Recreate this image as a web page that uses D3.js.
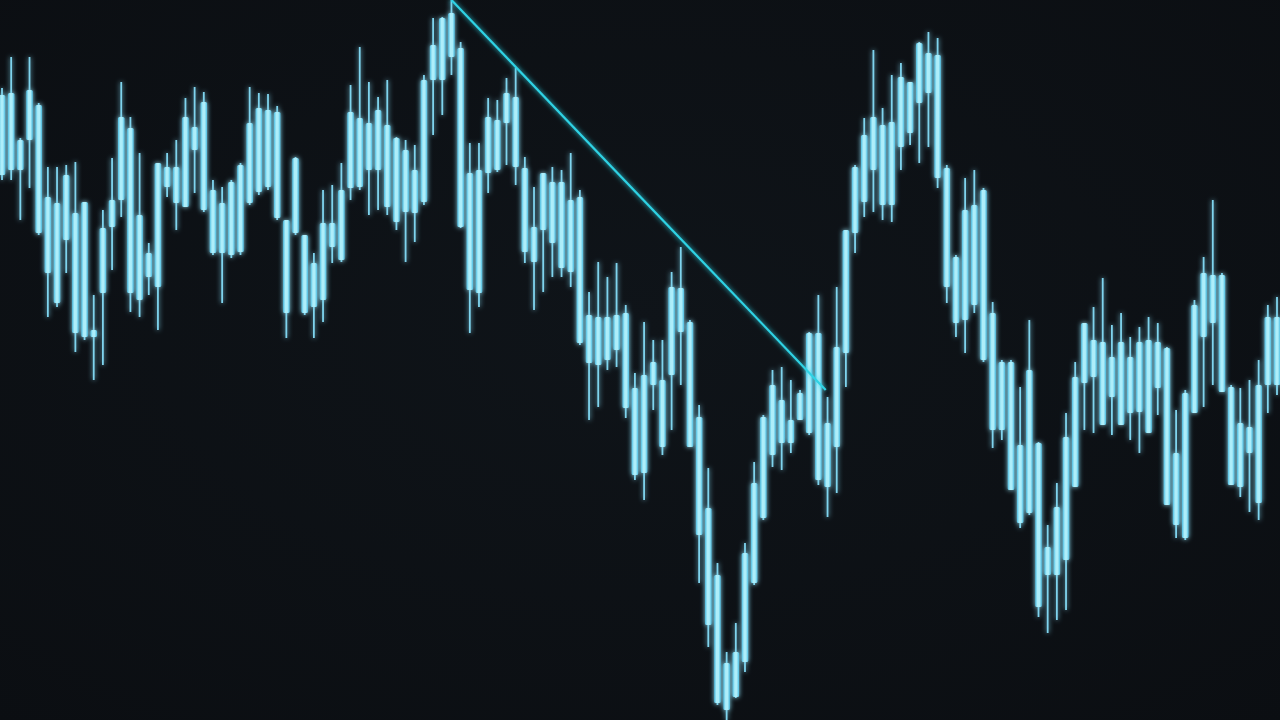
<!DOCTYPE html>
<html>
<head>
<meta charset="utf-8">
<script src="https://cdn.jsdelivr.net/npm/d3@7"></script>
<style>
  html, body { margin: 0; padding: 0; background: #0d1116; overflow: hidden; }
  svg { display: block; }
</style>
</head>
<body>
<svg id="chart" width="1280" height="720"></svg>
<script>
// ---- Data (price units) ----
const openVals = [
  545,550,580,580,615,523,517,480,507,383,
  390,427,493,520,592,505,467,433,533,553,
  513,570,618,530,517,465,468,517,528,533,
  608,500,487,485,457,420,473,460,532,602,
  550,550,595,582,570,550,518,640,640,663,
  672,547,427,547,600,597,623,552,493,490,
  538,538,520,523,405,403,360,370,407,332,
  247,335,340,345,388,398,303,212,145,57,
  23,58,137,202,265,320,300,300,287,387,
  297,273,367,487,518,550,595,515,573,587,
  617,627,665,552,463,400,415,530,407,358,
  358,275,207,277,173,145,160,233,337,380,
  378,323,378,363,308,380,332,372,267,182,
  307,383,397,445,333,297,267,335,335,335
];
const highVals = [
  632,663,582,663,617,553,553,555,558,518,
  425,510,562,638,603,567,477,557,567,580,
  622,633,628,540,533,540,557,633,627,626,
  614,500,563,485,467,530,535,557,635,673,
  638,623,640,583,580,575,645,702,703,720,
  678,577,577,622,620,642,652,563,533,547,
  553,550,567,530,428,458,443,457,415,347,
  398,380,380,448,473,400,315,252,157,68,
  97,177,258,305,350,353,340,330,388,425,
  323,433,490,555,602,670,612,645,657,638,
  678,688,682,555,465,542,550,532,418,360,
  360,333,400,278,195,237,307,358,397,413,
  442,395,407,383,393,403,397,373,310,330,
  420,463,520,447,335,332,340,360,415,423
];
const lowVals = [
  540,540,500,532,485,403,413,447,368,380,
  340,355,450,503,408,403,425,390,523,490,
  513,527,508,465,417,462,465,515,525,530,
  500,382,485,405,382,398,457,458,520,530,
  505,510,505,490,458,478,515,585,605,645,
  492,387,413,527,548,555,535,457,410,428,
  443,443,433,375,300,313,350,353,302,240,
  220,310,265,290,335,273,137,73,15,0,
  22,48,135,200,253,250,267,300,285,235,
  203,227,333,467,503,508,500,498,550,575,
  557,573,532,417,383,367,407,358,272,280,
  230,192,205,103,87,100,110,233,290,287,
  295,285,295,280,267,287,305,215,182,180,
  307,313,335,328,235,223,208,200,307,325
];
const closeVals = [
  625,627,550,630,487,447,417,545,387,518,
  383,492,520,603,427,420,443,557,553,517,
  603,593,510,467,467,538,555,597,612,610,
  502,407,562,407,413,497,497,530,608,533,
  597,610,513,498,508,507,640,675,702,707,
  493,430,550,603,550,627,553,468,458,547,
  477,452,448,377,357,355,403,405,312,245,
  345,358,273,433,432,273,185,95,17,10,
  68,167,237,303,335,277,277,327,387,240,
  233,373,490,553,585,603,515,598,643,638,
  677,667,542,433,397,510,515,360,290,290,
  230,197,350,113,145,213,283,343,397,343,
  295,363,295,307,378,287,378,215,195,327,
  415,447,445,328,235,233,293,217,403,403
];
// Trend line anchors: [candle index, price]
const trendIdx = [49, 89.8];
const trendPrice = [720, 330];

// ---- Build ----
const W = 1280, H = 720;
const n = highVals.length;
const candles = d3.range(n).map(i => ({
  i, o: openVals[i], h: highVals[i], l: lowVals[i], c: closeVals[i]
}));

const x = d3.scaleLinear().domain([0, n - 1]).range([2, 1277]);
const y = d3.scaleLinear().domain([0, 720]).range([H, 0]);

const svg = d3.select("#chart");
const defs = svg.append("defs");

const bg = defs.append("radialGradient").attr("id", "bg")
  .attr("cx", "50%").attr("cy", "45%").attr("r", "75%");
bg.append("stop").attr("offset", "0%").attr("stop-color", "#0f1419");
bg.append("stop").attr("offset", "100%").attr("stop-color", "#0b0e12");

const bodyGrad = defs.append("linearGradient").attr("id", "body")
  .attr("x1", "0%").attr("x2", "100%").attr("y1", "0%").attr("y2", "0%");
bodyGrad.append("stop").attr("offset", "0%").attr("stop-color", "#4cbde2");
bodyGrad.append("stop").attr("offset", "35%").attr("stop-color", "#aeeefa");
bodyGrad.append("stop").attr("offset", "65%").attr("stop-color", "#aeeefa");
bodyGrad.append("stop").attr("offset", "100%").attr("stop-color", "#4cbde2");

const glow = defs.append("filter").attr("id", "glow")
  .attr("x", "-50%").attr("y", "-20%").attr("width", "200%").attr("height", "140%");
glow.append("feGaussianBlur").attr("stdDeviation", 2.5).attr("result", "b");
const m = glow.append("feMerge");
m.append("feMergeNode").attr("in", "b");
m.append("feMergeNode").attr("in", "SourceGraphic");

svg.append("rect").attr("width", W).attr("height", H).attr("fill", "url(#bg)");

const g = svg.append("g").attr("filter", "url(#glow)");
const bodyW = 6.5;

const cg = g.selectAll("g.candle").data(candles).join("g").attr("class", "candle");
cg.append("line")
  .attr("x1", d => x(d.i)).attr("x2", d => x(d.i))
  .attr("y1", d => y(d.h)).attr("y2", d => y(d.l))
  .attr("stroke", "#7fd4ee").attr("stroke-width", 1.8);
cg.append("rect")
  .attr("x", d => x(d.i) - bodyW / 2)
  .attr("width", bodyW)
  .attr("y", d => y(Math.max(d.o, d.c)))
  .attr("height", d => Math.max(1.5, Math.abs(y(d.o) - y(d.c))))
  .attr("rx", 1.5)
  .attr("fill", "url(#body)");

const line = d3.line().x(d => x(d[0])).y(d => y(d[1]));
svg.append("path")
  .datum(trendIdx.map((t, k) => [t, trendPrice[k]]))
  .attr("d", line)
  .attr("fill", "none")
  .attr("stroke", "#2fd2e4")
  .attr("stroke-width", 2.2)
  .attr("filter", "url(#glow)");
</script>
</body>
</html>
